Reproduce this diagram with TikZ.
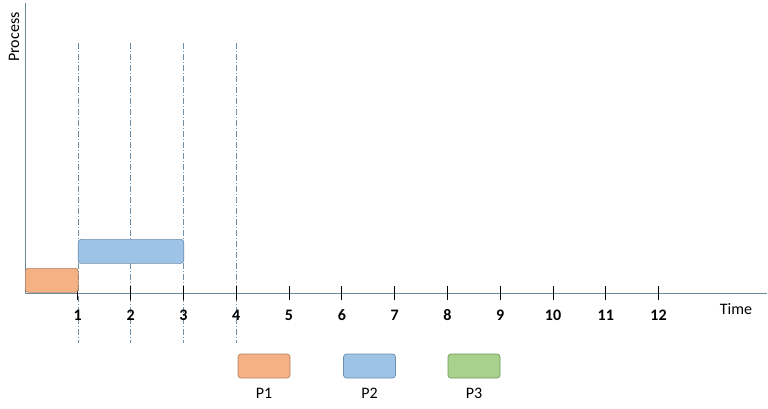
\documentclass[tikz,border=0pt]{standalone}
\usepackage{fontspec}
\setmainfont{Carlito}
\begin{document}
\begin{tikzpicture}[x=1pt,y=-1pt,
  axisline/.style={draw=axisc, line width=0.9pt},
  tickmark/.style={draw=black, line width=0.9pt},
  guide/.style={draw=guidec, line width=0.5pt, dash pattern=on 6pt off 2pt on 1pt off 2pt},
  bar/.style={rounded corners=3pt, line width=0.7pt, inner sep=0pt, anchor=north west},
  ticklabel/.style={font=\fontsize{16}{18}\selectfont\bfseries, inner sep=0pt},
  plain/.style={font=\fontsize{16}{18}\selectfont, inner sep=0pt}]
\definecolor{axisc}{HTML}{6A8A9A}
\definecolor{guidec}{HTML}{7090AA}
\definecolor{p1fill}{HTML}{F4B183}
\definecolor{p1draw}{HTML}{B88060}
\definecolor{p2fill}{HTML}{9DC3E6}
\definecolor{p2draw}{HTML}{6F8FAF}
\definecolor{p3fill}{HTML}{A9D18E}
\definecolor{p3draw}{HTML}{6E9A5A}
\useasboundingbox[fill=white] (0,0) rectangle (768,408);
% axes
\coordinate (origin) at (25,293);
\coordinate (ytop) at (25,3);
\coordinate (xend) at (767,293);
\draw[axisline] (ytop) -- (origin) -- (xend);
% guides
\foreach \k in {1,2,3,4} {
  \coordinate (gt\k) at ({25+52.8*\k},43);
  \coordinate (gb\k) at ({25+52.8*\k},343);
  \draw[guide] (gt\k) -- (gb\k);
}
% ticks and labels
\foreach \k in {1,...,12} {
  \coordinate (ta\k) at ({25+52.8*\k},286);
  \coordinate (tb\k) at ({25+52.8*\k},300);
  \draw[tickmark] (ta\k) -- (tb\k);
  \node[ticklabel] (tl\k) at ({25+52.8*\k},315) {\k};
}
% bars
\node[bar, fill=p1fill, draw=p1draw, minimum width=52.8pt, minimum height=24pt] (bar1) at (25,268) {};
\node[bar, fill=p2fill, draw=p2draw, minimum width=105.6pt, minimum height=24pt] (bar2) at (77.8,239) {};
% axis labels
\node[plain] (timelab) at (736,309) {Time};
\node[plain, rotate=90] (proclab) at (14,37) {Process};
% legend
\node[bar, anchor=center, fill=p1fill, draw=p1draw, minimum width=52pt, minimum height=24pt] (leg1) at (264,366) {};
\node[bar, anchor=center, fill=p2fill, draw=p2draw, minimum width=52pt, minimum height=24pt] (leg2) at (369.5,366) {};
\node[bar, anchor=center, fill=p3fill, draw=p3draw, minimum width=52pt, minimum height=24pt] (leg3) at (474,366) {};
\node[plain] (leglab1) at (264,393) {P1};
\node[plain] (leglab2) at (369.5,393) {P2};
\node[plain] (leglab3) at (474,393) {P3};
\end{tikzpicture}
\end{document}
